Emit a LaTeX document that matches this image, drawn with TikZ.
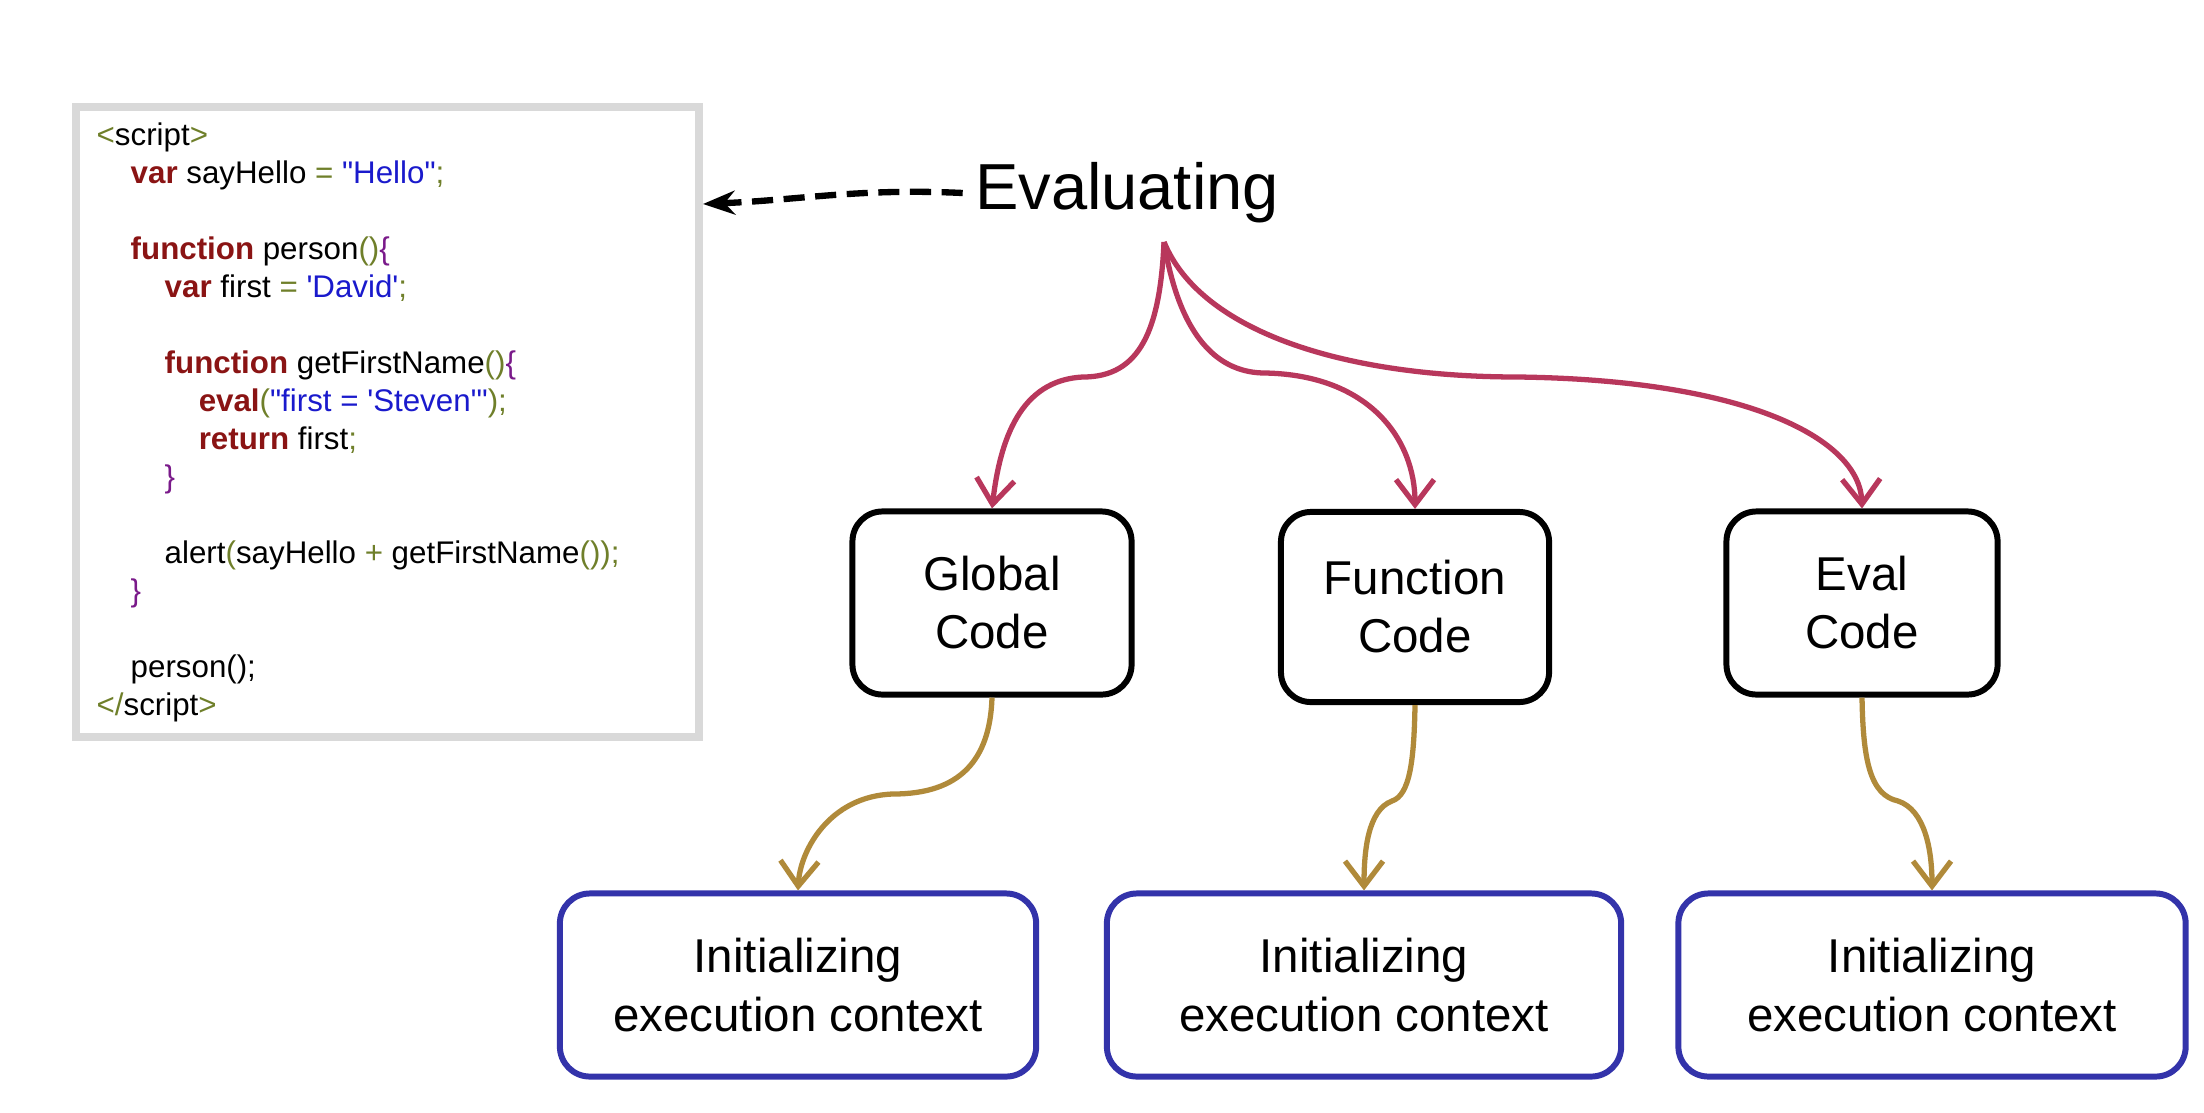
\documentclass[tikz,border=0pt]{standalone}
\usepackage{fontspec}
\setmainfont{Liberation Sans}
\newfontfamily\codefont{Liberation Sans}
\usetikzlibrary{arrows.meta,positioning}
\definecolor{kwred}{HTML}{8A1414}
\definecolor{strblue}{HTML}{1A1ACC}
\definecolor{punolive}{HTML}{6F7F2A}
\definecolor{brpurple}{HTML}{7A1A8A}
\definecolor{evalred}{HTML}{B8375C}
\definecolor{initgold}{HTML}{B08A3A}
\definecolor{ctxblue}{HTML}{3333AA}
\newcommand{\kw}[1]{\textcolor{kwred}{\textbf{#1}}}
\newcommand{\str}[1]{\textcolor{strblue}{#1}}
\newcommand{\pu}[1]{\textcolor{punolive}{#1}}
\newcommand{\br}[1]{\textcolor{brpurple}{#1}}
\newcommand{\ind}[1]{\hspace*{#1\dimexpr3.4mm\relax}}
\tikzset{
  codebox/.style={draw=gray!30,line width=0.8mm,minimum width=6.23cm,minimum height=6.30cm,anchor=north west,inner sep=0pt},
  kind/.style={draw=black,line width=1.7pt,rounded corners=3mm,align=center,font=\fontsize{13.5pt}{16.5pt}\selectfont,minimum height=1.83cm},
  ctx/.style={draw=ctxblue,line width=1.7pt,rounded corners=3mm,align=center,font=\fontsize{13.5pt}{16.5pt}\selectfont,minimum height=1.83cm},
  evalarrow/.style={evalred,line width=1.5pt,-{Straight Barb[length=2.5mm,width=3.8mm,line width=1.5pt]}},
  initarrow/.style={initgold,line width=1.5pt,-{Straight Barb[length=2.5mm,width=3.8mm,line width=1.5pt]}}
}
\begin{document}
\begin{tikzpicture}[x=0.01cm,y=-0.01cm]
  \useasboundingbox (0,0) rectangle (2204,1112);
  % code listing
  \node[codebox] (codebox) at (72,103) {};
  \node[anchor=north west,align=left,inner sep=0pt,font=\codefont\fontsize{8.9pt}{10.8pt}\selectfont] (code) at (96,122) {%
    \pu{<}script\pu{>}\\
    \ind{1}\kw{var} sayHello \pu{=} \str{"Hello"}\pu{;}\\
    \mbox{}\\
    \ind{1}\kw{function} person\pu{()}\br{\{}\\
    \ind{2}\kw{var} first \pu{=} \str{'David'}\pu{;}\\
    \mbox{}\\
    \ind{2}\kw{function} getFirstName\pu{()}\br{\{}\\
    \ind{3}\kw{eval}\pu{(}\str{"first = 'Steven'"}\pu{);}\\
    \ind{3}\kw{return} first\pu{;}\\
    \ind{2}\br{\}}\\
    \mbox{}\\
    \ind{2}alert\pu{(}sayHello \pu{+} getFirstName\pu{())}\pu{;}\\
    \ind{1}\br{\}}\\
    \mbox{}\\
    \ind{1}person();\\
    \pu{</}script\pu{>}};
  % evaluating
  \node[font=\fontsize{18.5pt}{22pt}\selectfont] (evaluating) at (1127,193) {Evaluating};
  \coordinate (fork) at (1164,242);
  \coordinate (codeport) at (703,204);
  \draw[dash pattern=on 6pt off 3pt,line width=1.8pt,-{Stealth[length=3.2mm]}] (evaluating.west) .. controls (860,188) and (800,200) .. (codeport);
  % code kinds
  \node[kind,minimum width=2.79cm] (global) at (992,603) {Global\\Code};
  \node[kind,minimum width=2.68cm,minimum height=1.90cm] (function) at (1415,607) {Function\\Code};
  \node[kind,minimum width=2.71cm] (evalcode) at (1862,603) {Eval\\Code};
  % contexts
  \node[ctx,minimum width=4.76cm] (ctxglobal) at (798,985) {Initializing\\execution context};
  \node[ctx,minimum width=5.14cm] (ctxfunction) at (1364,985) {Initializing\\execution context};
  \node[ctx,minimum width=5.07cm] (ctxeval) at (1932,985) {Initializing\\execution context};
  % branches
  \draw[evalarrow] (fork) .. controls (1160,330) and (1140,377) .. (1083,377) .. controls (1020,380) and (1000,440) .. (global.north);
  \draw[evalarrow] (fork) .. controls (1180,340) and (1220,373) .. (1265,373) .. controls (1370,375) and (1415,440) .. (function.north);
  \draw[evalarrow] (fork) .. controls (1200,330) and (1340,377) .. (1518,377) .. controls (1750,380) and (1860,440) .. (evalcode.north);
  \draw[initarrow] (global.south) .. controls (990,760) and (960,794) .. (893,794) .. controls (830,796) and (800,850) .. (ctxglobal.north);
  \draw[initarrow] (function.south) .. controls (1414,760) and (1410,795) .. (1392,801) .. controls (1368,810) and (1364,850) .. (ctxfunction.north);
  \draw[initarrow] (evalcode.south) .. controls (1863,760) and (1870,795) .. (1898,801) .. controls (1925,810) and (1932,850) .. (ctxeval.north);
\end{tikzpicture}
\end{document}
